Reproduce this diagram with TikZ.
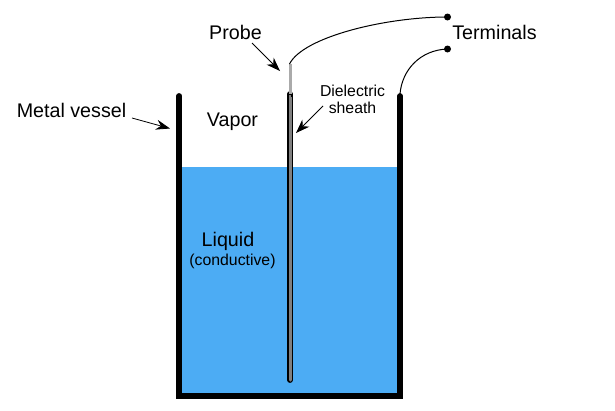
\documentclass[tikz,border=0pt]{standalone}
\usepackage{fontspec}
\setmainfont{Liberation Sans}
\usetikzlibrary{arrows.meta}
\definecolor{liquid}{RGB}{76,172,244}
\definecolor{probegray}{RGB}{128,128,128}
\definecolor{tipgray}{RGB}{170,170,170}
\tikzset{
  big/.style={inner sep=0pt,font=\fontsize{19.7}{22}\selectfont},
  small/.style={inner sep=0pt,align=center,font=\fontsize{15.8}{17}\selectfont},
  pointer/.style={line width=0.8pt,-{Stealth[length=14pt,width=10pt]}},
  wire/.style={line width=1pt},
  term/.style={circle,fill=black,inner sep=0pt,minimum size=7pt},
  wall/.style={line width=5.8pt,line cap=round,line join=miter}
}
\begin{document}
\begin{tikzpicture}[x=1pt,y=-1pt]
\useasboundingbox (0,0) rectangle (615,410);
\fill[white] (0,0) rectangle (615,410);
% liquid
\fill[liquid] (179,167) rectangle (400,396);
% vessel
\draw[wall] (179.3,96) -- (179.3,396) -- (400,396) -- (400,96);
% probe
\draw[line width=5.8pt,line cap=round] (290,94) -- (290,380);
\draw[line width=3pt,line cap=round,probegray] (290,96) -- (290,380);
\fill[black] (287.1,93.5) rectangle (292.9,97);
\fill[probegray] (288.6,94.5) rectangle (291.4,120);
\draw[line width=3pt,tipgray] (290,94) -- (290,64);
% terminals
\node[term] (t1) at (447.5,17) {};
\node[term] (t2) at (447.5,49) {};
\coordinate (w1) at (289.5,64);
\coordinate (w2) at (400,94);
\draw[wire] (w1) .. controls (303,37) and (385,17) .. (t1.center);
\draw[wire] (w2) .. controls (402,70) and (420,50) .. (t2.center);
% labels
\node[big] (probe) at (235.5,32) {Probe};
\node[big] (term) at (494.5,32) {Terminals};
\node[big] (vessel) at (71.5,110.5) {Metal vessel};
\node[big] (vapor) at (232.5,122) {Vapor};
\node[big] (liquidlbl) at (228,241) {Liquid};
\node[small] (cond) at (232.5,261) {(conductive)};
\node[small] (diel) at (352.5,99) {Dielectric\\sheath};
% pointers
\coordinate (p1a) at (252,43);
\coordinate (p1b) at (280,71);
\coordinate (p2a) at (132,118);
\coordinate (p2b) at (170,128.5);
\coordinate (p3a) at (323,106);
\coordinate (p3b) at (296,133);
\draw[pointer] (p1a) -- (p1b);
\draw[pointer] (p2a) -- (p2b);
\draw[pointer] (p3a) -- (p3b);
\end{tikzpicture}
\end{document}
